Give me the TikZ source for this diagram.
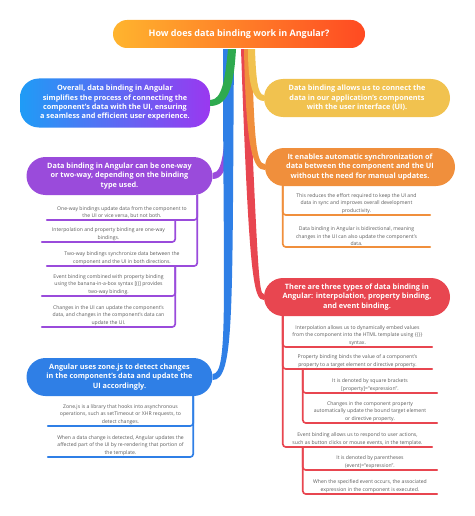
\documentclass[tikz,border=0pt]{standalone}
\usepackage{fontspec}
\setmainfont{Open Sans}
\usepackage{xcolor}
\definecolor{cTitleL}{HTML}{FFB42E}
\definecolor{cTitleR}{HTML}{FF4A22}
\definecolor{cSky}{HTML}{1F9CF6}
\definecolor{cViolet}{HTML}{9A38F0}
\definecolor{cBlue}{HTML}{2F7FE6}
\definecolor{cPurple}{HTML}{9A4BDB}
\definecolor{cYellow}{HTML}{F1C24F}
\definecolor{cOrange}{HTML}{F08F3C}
\definecolor{cRed}{HTML}{E84650}
\definecolor{cGreen}{HTML}{2EAA4F}
\definecolor{cText}{HTML}{5A5A5A}
\usetikzlibrary{positioning,calc}
\tikzset{
  node-title/.style={rounded corners=14pt,minimum width=252pt,minimum height=28pt,
    text=white,font=\fontsize{9}{10}\selectfont\bfseries,
    left color=cTitleL,right color=cTitleR},
  node-topic/.style={rounded corners=19pt,minimum width=186pt,minimum height=38pt,
    align=center,text=white,inner sep=2pt,
    font=\fontsize{7.3}{9.4}\selectfont\bfseries},
  node-leaf/.style={minimum width=#1,align=center,inner sep=1.4pt,anchor=south,
    text=cText,font=\fontsize{5.1}{7.2}\selectfont},
  leaf-line/.style={line width=1.7pt,rounded corners=3pt,line cap=round},
}

\begin{document}
\begin{tikzpicture}[x=1pt,y=-1pt]
  \useasboundingbox (0,0) rectangle (474,516);
  % root and topics
  \node[node-title] (title) at (239,34) {How does data binding work in Angular?};
  \node[node-topic,left color=cSky,right color=cViolet,minimum width=190pt,minimum height=49pt]
    (ov) at (115,103) {Overall, data binding in Angular\\simplifies the process of connecting the\\component’s data with the UI, ensuring\\a seamless and efficient user experience.};
  \node[node-topic,fill=cYellow] (ye) at (357,98) {Data binding allows us to connect the\\data in our application’s components\\with the user interface (UI).};
  \node[node-topic,fill=cOrange,minimum width=190pt] (en) at (360,167) {It enables automatic synchronization of\\data between the component and the UI\\without the need for manual updates.};
  \node[node-topic,fill=cRed] (rd) at (357,297) {There are three types of data binding in\\Angular: interpolation, property binding,\\and event binding.};
  \node[node-topic,fill=cPurple] (pm) at (119.5,176) {Data binding in Angular can be one-way\\or two-way, depending on the binding\\type used.};
  \node[node-topic,fill=cBlue] (bl) at (119.5,377) {Angular uses zone.js to detect changes\\in the component’s data and update the\\UI accordingly.};

  % leaves
  \node[node-leaf=150pt] (p1) at (122,220) {One-way bindings update data from the component to\\the UI or vice versa, but not both.};
  \node[node-leaf=133pt] (p2) at (108.5,242) {Interpolation and property binding are one-way\\bindings.};
  \node[node-leaf=150pt] (p3) at (122,266) {Two-way bindings synchronize data between the\\component and the UI in both directions.};
  \node[node-leaf=133pt] (p4) at (108.5,296) {Event binding combined with property binding\\using the banana-in-a-box syntax [()] provides\\two-way binding.};
  \node[node-leaf=133pt] (p5) at (108.5,327) {Changes in the UI can update the component’s\\data, and changes in the component’s data can\\update the UI.};
  \node[node-leaf=147pt] (o1) at (356.5,215) {This reduces the effort required to keep the UI and\\data in sync and improves overall development\\productivity.};
  \node[node-leaf=147pt] (o2) at (356.5,247) {Data binding in Angular is bidirectional, meaning\\changes in the UI can also update the component’s\\data.};
  \node[node-leaf=149pt] (r1) at (357.5,347) {Interpolation allows us to dynamically embed values\\from the component into the HTML template using \{\{\}\}\\syntax.};
  \node[node-leaf=149pt] (r2) at (357.5,369) {Property binding binds the value of a component’s\\property to a target element or directive property.};
  \node[node-leaf=134pt] (r3) at (370,393) {It is denoted by square brackets\\{[property]="expression".}};
  \node[node-leaf=134pt] (r4) at (370,423) {Changes in the component property\\automatically update the bound target element\\or directive property.};
  \node[node-leaf=149pt] (r5) at (357.5,447) {Event binding allows us to respond to user actions,\\such as button clicks or mouse events, in the template.};
  \node[node-leaf=134pt] (r6) at (370,470) {It is denoted by parentheses\\(event)="expression".};
  \node[node-leaf=134pt] (r7) at (370,494) {When the specified event occurs, the associated\\expression in the component is executed.};
  \node[node-leaf=145pt] (b1) at (120.5,426) {Zone.js is a library that hooks into asynchronous\\operations, such as setTimeout or XHR requests, to\\detect changes.};
  \node[node-leaf=145pt] (b2) at (120.5,457) {When a data change is detected, Angular updates the\\affected part of the UI by re-rendering that portion of\\the template.};

  % main branches, filled as tapering ribbons
  \coordinate (stem) at ([yshift=-1pt]title.south);
  \fill[cRed] ([xshift=2pt]stem) .. controls +(8,232) and +(-10,0) .. ([yshift=-3pt]rd.west)
    -- ([yshift=3pt]rd.west) .. controls +(-5,0) and +(10,225) .. ([xshift=9pt]stem) -- cycle;
  \fill[cOrange] ([xshift=5pt]stem) .. controls +(2,100) and +(-12,0) .. ([yshift=-3pt]en.west)
    -- ([yshift=3pt]en.west) .. controls +(-8,0) and +(2,95) .. ([xshift=13pt]stem) -- cycle;
  \fill[cYellow] ([xshift=9pt]stem) .. controls +(0,38) and +(-10,0) .. ([yshift=-3pt]ye.west)
    -- ([yshift=3pt]ye.west) .. controls +(-6,0) and +(1,30) .. ([xshift=16pt]stem) -- cycle;
  \fill[cPurple] ([xshift=-12pt]stem) .. controls +(-1,90) and +(12,0) .. ([yshift=3pt]pm.east)
    -- ([yshift=-3pt]pm.east) .. controls +(18,0) and +(-1,95) .. ([xshift=-6pt]stem) -- cycle;
  \fill[cBlue] ([xshift=-16pt]stem) .. controls +(0,250) and +(16,0) .. ([yshift=3pt]bl.east)
    -- ([yshift=-3pt]bl.east) .. controls +(22,0) and +(-2,262) .. ([xshift=-5pt]stem) -- cycle;
  \fill[cGreen] ([xshift=-11pt]stem) .. controls +(-3,30) and +(12,0) .. ([yshift=3pt]ov.east)
    -- ([yshift=-3pt]ov.east) .. controls +(20,0) and +(-2,32) .. ([xshift=-3pt]stem) -- cycle;

  % leaf lines
  \foreach \l in {p1,p3}
    \draw[leaf-line,cPurple] (pm.south -| \l.south east) |- (\l.south west);
  \draw[leaf-line,cPurple] (p1.south -| p2.south east) |- (p2.south west);
  \foreach \l in {p4,p5}
    \draw[leaf-line,cPurple] (p3.south -| \l.south east) |- (\l.south west);
  \foreach \l in {o1,o2}
    \draw[leaf-line,cOrange] (en.south -| \l.south west) |- (\l.south east);
  \foreach \l in {r1,r2,r5}
    \draw[leaf-line,cRed] (rd.south -| \l.south west) |- (\l.south east);
  \foreach \l in {r3,r4}
    \draw[leaf-line,cRed] (r2.south -| \l.south west) |- (\l.south east);
  \foreach \l in {r6,r7}
    \draw[leaf-line,cRed] (r5.south -| \l.south west) |- (\l.south east);
  \foreach \l in {b1,b2}
    \draw[leaf-line,cBlue] (bl.south -| \l.south east) |- (\l.south west);
\end{tikzpicture}
\end{document}
